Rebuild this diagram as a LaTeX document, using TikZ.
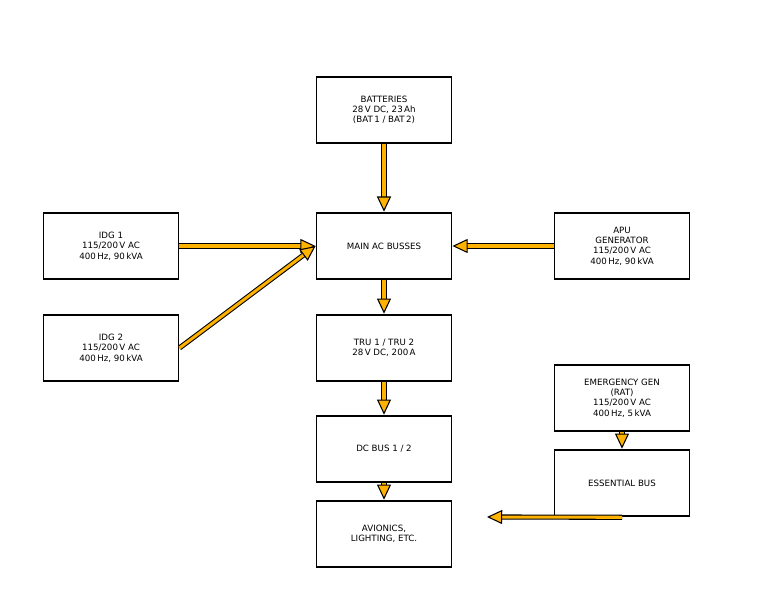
\documentclass[tikz,border=0pt]{standalone}
\usepackage{fontspec}
\setmainfont{DejaVu Sans}
\usetikzlibrary{arrows.meta,positioning}
\definecolor{feed}{RGB}{255,178,0}

\begin{document}
\begin{tikzpicture}[
    x=0.03cm, y=-0.03cm,
    unit/.style={draw, line width=1.6pt, minimum width=4.05cm, minimum height=2.0cm, align=center, font=\fontsize{7.4}{8.8}\selectfont},
    power/.style={draw=black, double=feed, double distance=2.6pt, line width=0.9pt, -{Triangle[width=12pt, length=13pt, fill=feed, line width=0.9pt]}}
  ]
  \useasboundingbox (0,0) rectangle (768,594);

  % Sources
  \node[unit] (bat) at (384,110) {BATTERIES\\28\,V DC, 23\,Ah\\(BAT\,1 / BAT\,2)};
  \node[unit] (idg1) at (111,246) {IDG 1\\115/200\,V AC\\400\,Hz, 90\,kVA};
  \node[unit] (idg2) at (111,348) {IDG 2\\115/200\,V AC\\400\,Hz, 90\,kVA};
  \node[unit] (apu) at (622,246) {APU\\GENERATOR\\115/200\,V AC\\400\,Hz, 90\,kVA};
  \node[unit] (rat) at (622,398) {EMERGENCY GEN\\(RAT)\\115/200\,V AC\\400\,Hz, 5\,kVA};

  % Busses and loads
  \node[unit] (mainac) at (384,246) {MAIN AC BUSSES};
  \node[unit] (tru) at (384,348) {TRU 1 / TRU 2\\28\,V DC, 200\,A};
  \node[unit] (dcbus) at (384,449) {DC BUS 1 / 2};
  \node[unit] (avion) at (384,534) {AVIONICS,\\LIGHTING, ETC.};
  \node[unit] (ess) at (622,483) {ESSENTIAL BUS};
  \coordinate (essout) at (487,517);

  % Feeds
  \draw[power] (bat) -- (mainac);
  \draw[power] (idg1) -- (mainac);
  \draw[power] (idg2.east) -- (mainac.west);
  \draw[power] (apu) -- (mainac);
  \draw[power] (mainac) -- (tru);
  \draw[power] (tru) -- (dcbus);
  \draw[power] (dcbus) -- (avion);
  \draw[power] (rat) -- (ess);
  \draw[power] (ess.south) -- (essout);
\end{tikzpicture}
\end{document}
